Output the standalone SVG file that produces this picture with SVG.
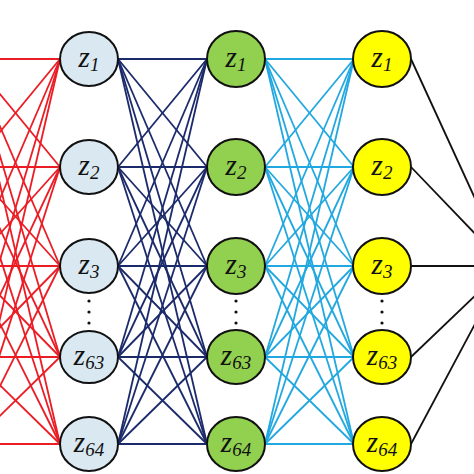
<svg xmlns="http://www.w3.org/2000/svg" width="474" height="474" viewBox="0 0 474 474">
<style>
.n{stroke:#111;stroke-width:2}
.b{fill:#d9e8f1}.g{fill:#92d050}.y{fill:#ffff00}
.t{font-family:"Liberation Serif","Times New Roman",serif;font-style:italic;font-size:29px;fill:#111}
.s{font-size:19px}
#red{stroke:#ec1c24;stroke-width:1.8}
#navy{stroke:#1b2a6b;stroke-width:1.8}
#cyan{stroke:#22a8e0;stroke-width:1.8}
#out{stroke:#111;stroke-width:1.8}
</style>
<defs>
<g id="fan">
<line x1="0" y1="59" x2="89" y2="59"/><line x1="0" y1="59" x2="89" y2="167"/><line x1="0" y1="59" x2="89" y2="266"/><line x1="0" y1="59" x2="89" y2="357"/><line x1="0" y1="59" x2="89" y2="444"/>
<line x1="0" y1="167" x2="89" y2="59"/><line x1="0" y1="167" x2="89" y2="167"/><line x1="0" y1="167" x2="89" y2="266"/><line x1="0" y1="167" x2="89" y2="357"/><line x1="0" y1="167" x2="89" y2="444"/>
<line x1="0" y1="266" x2="89" y2="59"/><line x1="0" y1="266" x2="89" y2="167"/><line x1="0" y1="266" x2="89" y2="266"/><line x1="0" y1="266" x2="89" y2="357"/><line x1="0" y1="266" x2="89" y2="444"/>
<line x1="0" y1="357" x2="89" y2="59"/><line x1="0" y1="357" x2="89" y2="167"/><line x1="0" y1="357" x2="89" y2="266"/><line x1="0" y1="357" x2="89" y2="357"/><line x1="0" y1="357" x2="89" y2="444"/>
<line x1="0" y1="444" x2="89" y2="59"/><line x1="0" y1="444" x2="89" y2="167"/><line x1="0" y1="444" x2="89" y2="266"/><line x1="0" y1="444" x2="89" y2="357"/><line x1="0" y1="444" x2="89" y2="444"/>
</g>
</defs>
<g id="connectors">
<g id="red" stroke="#ec1c24" stroke-width="1.8"><use href="#fan" x="-29"/></g>
<g id="navy" stroke="#1b2a6b" stroke-width="1.8"><use href="#fan" x="118"/></g>
<g id="cyan" stroke="#22a8e0" stroke-width="1.8"><use href="#fan" x="265"/></g>
<g id="out" stroke="#111" stroke-width="1.8">
<line x1="411" y1="59" x2="506" y2="266"/><line x1="411" y1="167" x2="506" y2="266"/><line x1="411" y1="266" x2="506" y2="266"/><line x1="411" y1="357" x2="506" y2="266"/><line x1="411" y1="444" x2="506" y2="266"/>
</g>
</g>
<g id="dots" fill="#111">
<circle cx="89" cy="301" r="1.6"/><circle cx="89" cy="312" r="1.6"/><circle cx="89" cy="323" r="1.6"/>
<circle cx="236" cy="301" r="1.6"/><circle cx="236" cy="312" r="1.6"/><circle cx="236" cy="323" r="1.6"/>
<circle cx="382" cy="301" r="1.6"/><circle cx="382" cy="312" r="1.6"/><circle cx="382" cy="323" r="1.6"/>
</g>
<g id="L1_z1"><ellipse class="n b" cx="89" cy="59" rx="29" ry="27"/><text class="t" x="89" y="67" text-anchor="middle">z<tspan class="s" dy="4">1</tspan></text></g>
<g id="L1_z2"><ellipse class="n b" cx="89" cy="167" rx="29" ry="27"/><text class="t" x="89" y="175" text-anchor="middle">z<tspan class="s" dy="4">2</tspan></text></g>
<g id="L1_z3"><ellipse class="n b" cx="89" cy="266" rx="29" ry="27"/><text class="t" x="89" y="274" text-anchor="middle">z<tspan class="s" dy="4">3</tspan></text></g>
<g id="L1_z63"><ellipse class="n b" cx="89" cy="357" rx="29" ry="26"/><text class="t" x="89" y="365" text-anchor="middle">z<tspan class="s" dy="4">63</tspan></text></g>
<g id="L1_z64"><ellipse class="n b" cx="89" cy="444" rx="29" ry="27"/><text class="t" x="89" y="452" text-anchor="middle">z<tspan class="s" dy="4">64</tspan></text></g>
<g id="L2_z1"><ellipse class="n g" cx="236" cy="59" rx="29" ry="28"/><text class="t" x="236" y="67" text-anchor="middle">z<tspan class="s" dy="4">1</tspan></text></g>
<g id="L2_z2"><ellipse class="n g" cx="236" cy="167" rx="29" ry="28"/><text class="t" x="236" y="175" text-anchor="middle">z<tspan class="s" dy="4">2</tspan></text></g>
<g id="L2_z3"><ellipse class="n g" cx="236" cy="266" rx="29" ry="28"/><text class="t" x="236" y="274" text-anchor="middle">z<tspan class="s" dy="4">3</tspan></text></g>
<g id="L2_z63"><ellipse class="n g" cx="236" cy="357" rx="29" ry="27"/><text class="t" x="236" y="365" text-anchor="middle">z<tspan class="s" dy="4">63</tspan></text></g>
<g id="L2_z64"><ellipse class="n g" cx="236" cy="444" rx="29" ry="27"/><text class="t" x="236" y="452" text-anchor="middle">z<tspan class="s" dy="4">64</tspan></text></g>
<g id="L3_z1"><ellipse class="n y" cx="382" cy="59" rx="29" ry="28"/><text class="t" x="382" y="67" text-anchor="middle">z<tspan class="s" dy="4">1</tspan></text></g>
<g id="L3_z2"><ellipse class="n y" cx="382" cy="167" rx="29" ry="28"/><text class="t" x="382" y="175" text-anchor="middle">z<tspan class="s" dy="4">2</tspan></text></g>
<g id="L3_z3"><ellipse class="n y" cx="382" cy="266" rx="29" ry="28"/><text class="t" x="382" y="274" text-anchor="middle">z<tspan class="s" dy="4">3</tspan></text></g>
<g id="L3_z63"><ellipse class="n y" cx="382" cy="357" rx="29" ry="27"/><text class="t" x="382" y="365" text-anchor="middle">z<tspan class="s" dy="4">63</tspan></text></g>
<g id="L3_z64"><ellipse class="n y" cx="382" cy="444" rx="29" ry="27"/><text class="t" x="382" y="452" text-anchor="middle">z<tspan class="s" dy="4">64</tspan></text></g>
</svg>
